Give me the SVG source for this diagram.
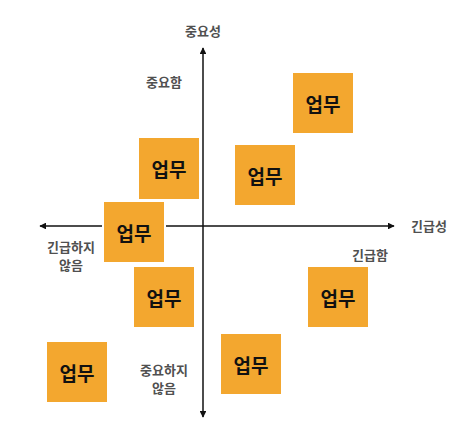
<svg xmlns="http://www.w3.org/2000/svg" width="474" height="444" viewBox="0 0 474 444">
<defs>
<marker id="arr" viewBox="0 0 10 10" refX="9" refY="5" markerWidth="4.5" markerHeight="4.5" orient="auto">
<path d="M0,0 L10,5 L0,10 z" fill="#111"/>
</marker>
<style>
.box{fill:#F3A72F}
.bt{font-family:"Noto Sans CJK KR","Noto Sans",sans-serif;font-size:19px;font-weight:700;fill:#111;text-anchor:middle;dominant-baseline:central}
.lbl{font-family:"Noto Sans CJK KR","Noto Sans",sans-serif;font-size:13px;font-weight:700;fill:#505050;text-anchor:middle}
.ax{stroke:#111;stroke-width:1.5;fill:none;marker-end:url(#arr)}
</style>
</defs>
<rect width="474" height="444" fill="#fff"/>
<g id="connectors">
<line class="ax" x1="203" y1="226" x2="203" y2="48"/>
<line class="ax" x1="203" y1="226" x2="203" y2="417"/>
<line class="ax" x1="203" y1="226" x2="394" y2="226"/>
<line class="ax" x1="203" y1="226" x2="40" y2="226"/>
</g>
<g id="labels">
<text class="lbl" x="203" y="36">중요성</text>
<text class="lbl" x="164" y="87">중요함</text>
<text class="lbl" x="429" y="231">긴급성</text>
<text class="lbl" x="370" y="260">긴급함</text>
<text class="lbl" x="71" y="252">긴급하지</text>
<text class="lbl" x="71" y="270">않음</text>
<text class="lbl" x="164" y="375">중요하지</text>
<text class="lbl" x="164" y="393">않음</text>
</g>
<g id="task1"><rect class="box" x="293" y="73" width="60" height="60"/><text class="bt" x="323" y="103">업무</text></g>
<g id="task2"><rect class="box" x="139" y="138" width="60" height="61"/><text class="bt" x="169" y="168">업무</text></g>
<g id="task3"><rect class="box" x="235" y="145" width="60" height="60"/><text class="bt" x="265" y="175">업무</text></g>
<g id="task4"><rect x="102" y="200" width="64" height="64" fill="#fff"/><rect class="box" x="104" y="202" width="60" height="60"/><text class="bt" x="134" y="232">업무</text></g>
<g id="task5"><rect class="box" x="134" y="267" width="60" height="60"/><text class="bt" x="164" y="297">업무</text></g>
<g id="task6"><rect class="box" x="308" y="267" width="60" height="60"/><text class="bt" x="338" y="297">업무</text></g>
<g id="task7"><rect class="box" x="47" y="342" width="60" height="60"/><text class="bt" x="77" y="372">업무</text></g>
<g id="task8"><rect class="box" x="221" y="334" width="60" height="60"/><text class="bt" x="251" y="364">업무</text></g>
</svg>
